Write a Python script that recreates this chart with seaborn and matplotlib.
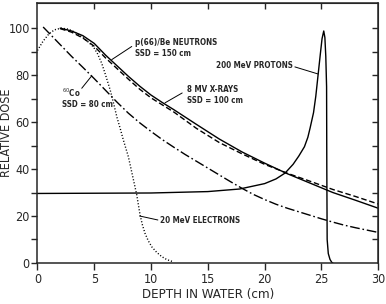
import pandas as pd
import matplotlib
matplotlib.use("Agg")
import matplotlib.pyplot as plt
import matplotlib.font_manager as fm
import seaborn as sns

# depth-dose curves
neutron_x = [2, 3, 4, 5, 6, 7, 8, 9, 10, 11, 12, 14, 16, 18, 20, 22, 24, 26, 28, 30]
neutron_y = [100, 98.8, 96.8, 93.5, 88.5, 84, 79.5, 75.3, 71.5, 68.3, 65.3, 59, 52.8, 47.3, 42.5, 38, 34, 30, 26.7, 23.3]

xray_x = [2, 3, 4, 5, 6, 7, 8, 9, 10, 11, 12, 14, 16, 18, 20, 22, 24, 26, 28, 30]
xray_y = [99.8, 98.3, 95.8, 92.3, 87.3, 82.8, 78.3, 74, 70.3, 67.3, 64.3, 57.3, 51.3, 46.5, 42, 38.2, 34.8, 31.3, 28.3, 25.1]

cobalt_x = [0.5, 1, 2, 3, 4, 5, 6, 7, 8, 9, 10, 11, 12, 13, 14, 15, 16, 17, 18, 19, 20,
            21, 22, 23, 24, 25, 26, 27, 28, 29, 30]
cobalt_y = [100.5, 98, 93, 88, 83.3, 78.5, 73.5, 68.5, 63.8, 59.7, 56, 52.5, 49.3, 46.2, 43.3, 40.4,
            37.5, 34.6, 31.8, 29.2, 27, 25, 23.3, 21.8, 20.3, 18.8, 17.4, 16.1, 15, 14, 13]

electron_x = [0, 0.5, 1, 1.5, 2.1, 2.7, 3.3, 4, 4.5, 4.93, 5.3, 5.66, 6.0, 6.4, 6.7, 7.0, 7.3,
              7.56, 8.0, 8.45, 8.74, 9.03, 9.25, 9.47, 9.75, 10.06, 10.5, 10.94, 11.4, 11.96]
electron_y = [90.5, 94.5, 97.5, 99.3, 100, 99.6, 98.3, 96, 94, 92, 89, 85, 80, 73.7, 68, 62, 57,
              52.4, 45.3, 35.4, 29, 20.5, 16, 12.6, 9.5, 6.9, 4.5, 2.7, 1.4, 0.5]

proton_x = [0, 5, 10, 15, 17.8, 20, 21, 21.8, 22.5, 23, 23.5, 23.8, 24.0, 24.3, 24.5, 24.7,
            24.9, 25.05, 25.2, 25.3, 25.38, 25.45, 25.47, 25.5, 25.6, 25.75, 25.9, 26.0]
proton_y = [29.6, 29.7, 29.8, 30.4, 31.5, 33.8, 35.8, 38.3, 42, 45.5, 49.5, 53.5, 57.5, 64, 71,
            80, 89, 95.5, 98.8, 96, 88, 75, 40, 10, 4, 1.5, 0.3, 0]

x_ticks = [0, 5, 10, 15, 20, 25, 30]
y_ticks = [0, 20, 40, 60, 80, 100]

sns.set_style("ticks")

# the original lettering is a narrow one, use a narrow face if there is one
narrow = [f.name for f in fm.fontManager.ttflist
          if 'Narrow' in f.name or 'Condensed' in f.name or f.stretch == 'condensed']
plt.rcParams['font.family'] = narrow[:1] + ['Liberation Sans', 'DejaVu Sans']
plt.rcParams['font.stretch'] = 'condensed'

fig = plt.figure(figsize=(3.86, 3.04), dpi=100)
ax = fig.add_axes([0.097, 0.135, 0.883, 0.855])

curves = [
    ("neutron", neutron_x, neutron_y, None),
    ("xray", xray_x, xray_y, (4, 2)),
    ("cobalt", cobalt_x, cobalt_y, (7, 2, 1.2, 2)),
    ("electron", electron_x, electron_y, (0.8, 1.4)),
    ("proton", proton_x, proton_y, None),
]
for name, xs, ys, dash in curves:
    df = pd.DataFrame({"depth": xs, "dose": ys})
    sns.lineplot(data=df, x="depth", y="dose", ax=ax, color="black", linewidth=1.0,
                 estimator=None, sort=False)
    if dash is not None:
        ax.lines[-1].set_dashes(dash)

ax.set_xlim(0, 30)
ax.set_ylim(0, 110.7)
ax.set_xticks(x_ticks)
ax.set_yticks(y_ticks)
ax.set_yticks(list(range(10, 110, 20)), minor=True)
ax.tick_params(axis='x', direction='out', length=5, width=1, labelsize=9, pad=2)
ax.tick_params(axis='y', which='both', direction='out', length=4, width=1, labelsize=9, pad=1.5)
for s in ax.spines.values():
    s.set_visible(True)
    s.set_linewidth(1.1)

top = ax.secondary_xaxis('top')
top.set_xticks([5, 10, 15, 20, 25])
top.tick_params(direction='in', length=4, width=1, labeltop=False)
right = ax.secondary_yaxis('right')
right.set_yticks(list(range(10, 110, 10)))
right.tick_params(direction='in', length=4, width=1, labelright=False)

ax.set_xlabel("DEPTH IN WATER (cm)", fontsize=9.5)
ax.set_ylabel("RELATIVE DOSE", fontsize=9)
ax.xaxis.set_label_coords(0.5, -0.095)
ax.yaxis.set_label_coords(-0.072, 0.5)

lab = dict(fontsize=5.8, fontweight='bold', va='center', linespacing=1.25)
ax.text(8.6, 91.7, "p(66)/Be NEUTRONS\nSSD = 150 cm", ha='left', **lab)
ax.text(13.2, 71.4, "8 MV X-RAYS\nSSD = 100 cm", ha='left', **lab)
ax.text(2.17, 70.3, r"$^{60}$Co" + "\nSSD = 80 cm", ha='left', **lab)
ax.text(22.5, 83.9, "200 MeV PROTONS", ha='right', **lab)
ax.text(10.8, 17.9, "20 MeV ELECTRONS", ha='left', **lab)

leaders = [((8.3, 92.2), (6.54, 86.6)),
           ((12.74, 72.4), (11.23, 68.2)),
           ((3.9, 74.4), (4.78, 79.7)),
           ((22.66, 83.5), (24.69, 80.5)),
           ((10.6, 18.3), (9.0, 20.0))]
for start, end in leaders:
    ax.annotate("", xy=end, xytext=start,
                arrowprops=dict(arrowstyle='-', color='black', lw=0.7, shrinkA=0, shrinkB=0))

fig.savefig("out.png", dpi=100)
